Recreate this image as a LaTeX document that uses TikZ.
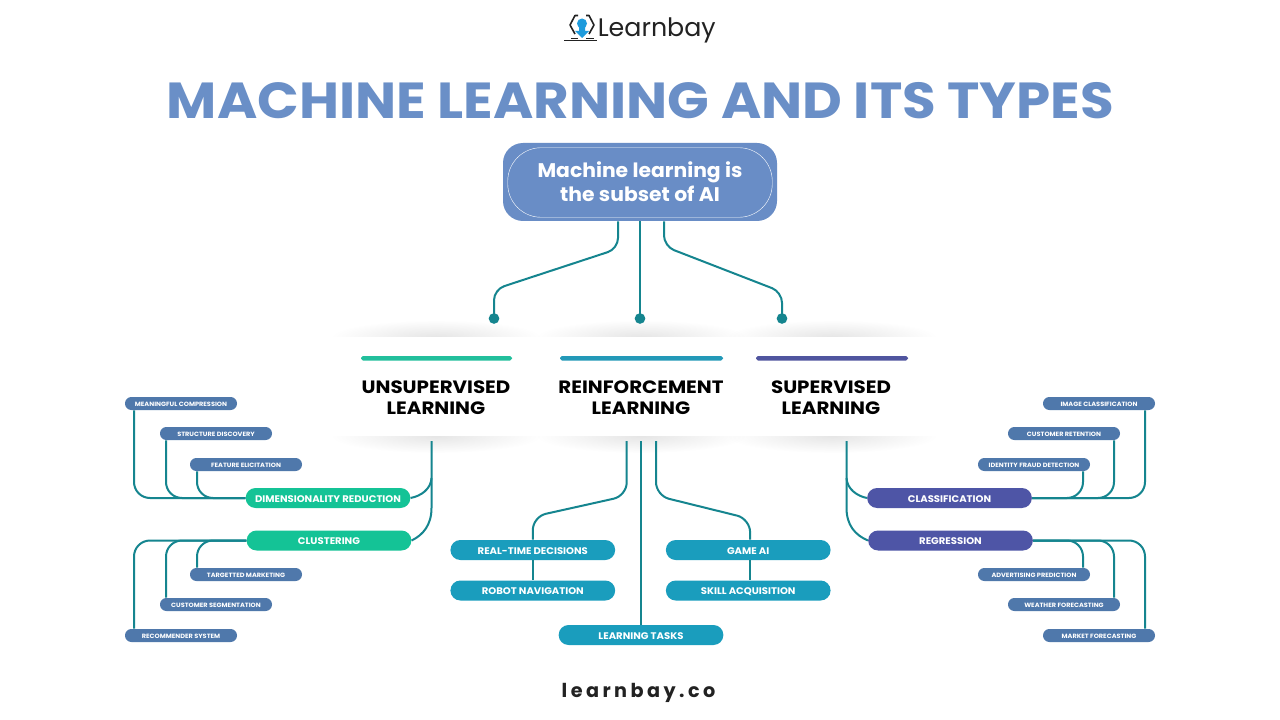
\documentclass[tikz,border=0pt]{standalone}
\usepackage{fontspec}
\setmainfont{Poppins}
\usetikzlibrary{calc,fadings}
\definecolor{titleblue}{HTML}{6A8FC7}
\definecolor{rootblue}{HTML}{698DC6}
\definecolor{smallblue}{HTML}{4F78AB}
\definecolor{greenp}{HTML}{14C396}
\definecolor{purplep}{HTML}{4E55A6}
\definecolor{cyanp}{HTML}{1A9DBD}
\definecolor{teal2}{HTML}{15858F}
\definecolor{bargreen}{HTML}{22BF9C}
\definecolor{barcyan}{HTML}{2399B8}
\definecolor{barpurple}{HTML}{50559F}
\definecolor{logoblue}{HTML}{1E9BDC}
\definecolor{inkk}{HTML}{222222}
\tikzfading[name=softshadow,inner color=transparent!90,outer color=transparent!100]
\tikzset{
  smallpill/.style={fill=smallblue,text=white,minimum width=84pt,minimum height=9.75pt,inner sep=0pt,rounded corners=4.8pt,text height=4.2pt,text depth=0pt,font=\fontsize{4.6}{5}\selectfont\bfseries\addfontfeature{FakeStretch=1.07}},
  midpill/.style={text=white,minimum width=123.5pt,minimum height=15pt,inner sep=0pt,rounded corners=7.4pt,text height=6.4pt,text depth=0pt,font=\fontsize{7.2}{8}\selectfont\bfseries\addfontfeature{FakeStretch=1.05}},
  conn/.style={draw=teal2,line width=1.5pt,rounded corners=#1},
  conn/.default=12pt,
  cardtext/.style={align=center,text=black,inner sep=0pt,font=\fontsize{13.4}{15.75}\selectfont\bfseries\addfontfeature{FakeStretch=1.11}},
  dotnode/.style={circle,fill=teal2,minimum size=8pt,inner sep=0pt},
  shadowblob/.style={fill=black,path fading=softshadow},
  topbar/.style={rounded corners=1.4pt}
}
\begin{document}
\begin{tikzpicture}[x=0.75pt,y=-0.75pt]
\useasboundingbox[fill=white] (0,0) rectangle (1280,720);
% card shadows
\foreach \cx in {436,641,832}{
  \fill[shadowblob] (\cx,337) ellipse (105 and 17);
  \fill[shadowblob] (\cx,436) ellipse (105 and 17);
}
\fill[white] (330,337) rectangle (950,436);
% logo
\node[anchor=base west,inner sep=0pt,text=inkk,font=\fontsize{19}{20}\selectfont] (logotext) at (597.5,37) {Learnbay};
\draw[inkk,line width=1.2pt,line join=round] (586,15.5) -- (589,15.5) -- (594,25) -- (589,34);
\draw[inkk,line width=1.2pt,line join=round] (575,34) -- (570,25) -- (575,15.5) -- (578,15.5);
\fill[logoblue] (582,23.5) circle (5);
\fill[logoblue] (579,27) -- (585,27) -- (585,31) -- (589,31) -- (582,38) -- (575,31) -- (579,31) -- cycle;
\draw[inkk,line width=0.9pt] (564,40.5) -- (597,40.5);
\draw[inkk,line width=0.7pt] (571,38) -- (578,38) (586,38) -- (594,38);
% title
\node[text=titleblue,inner sep=0pt,font=\fontsize{38}{40}\selectfont\bfseries\addfontfeature{FakeStretch=1.08}] (title) at (640.5,100.5) {MACHINE LEARNING AND ITS TYPES};
% root
\node[fill=rootblue,text=white,align=center,minimum width=205.5pt,minimum height=58.5pt,inner sep=0pt,rounded corners=15pt,font=\fontsize{14.8}{18}\selectfont\bfseries\addfontfeature{FakeStretch=1.03}] (root) at (640,182) {\raisebox{-2pt}{Machine learning is}\\\raisebox{-2pt}{the subset of AI}};
\draw[white,line width=0.3pt,rounded corners=25pt] ($(root.north west)+(5,5)$) rectangle ($(root.south east)+(-5,-4)$);
% dots
\node[dotnode] (d1) at (494,318.5) {};
\node[dotnode] (d2) at (640,318.5) {};
\node[dotnode] (d3) at (782,318.5) {};
\draw[conn=8pt] ($(root.south)+(-22,0)$) -- ++(0,27.5) -- (494,289.5) -- (d1.center);
\draw[conn=8pt] (root.south) -- (d2.center);
\draw[conn=8pt] ($(root.south)+(24,0)$) -- ++(0,25) -- (782,292) -- (d3.center);
% bars
\fill[bargreen,topbar] (361,356) rectangle (512,360.5);
\fill[barcyan,topbar] (560,356) rectangle (723,360.5);
\fill[barpurple,topbar] (756,356) rectangle (908,360.5);
% cards
\node[cardtext] (uns) at (436,397.5) {UNSUPERVISED\\LEARNING};
\node[cardtext] (rei) at (641,397.5) {REINFORCEMENT\\LEARNING};
\node[cardtext] (sup) at (831,397.5) {SUPERVISED\\LEARNING};
% mid pills
\node[midpill,fill=greenp] (dim) at (328,498) {DIMENSIONALITY REDUCTION};
\node[midpill,fill=greenp] (clu) at (329,540.5) {CLUSTERING};
\node[midpill,fill=purplep] (cla) at (949.5,498) {CLASSIFICATION};
\node[midpill,fill=purplep] (reg) at (950.5,540.5) {REGRESSION};
\node[midpill,fill=cyanp] (rt) at (532.8,550) {REAL-TIME DECISIONS};
\node[midpill,fill=cyanp] (rn) at (532.8,590.5) {ROBOT NAVIGATION};
\node[midpill,fill=cyanp] (ga) at (748.2,550) {GAME AI};
\node[midpill,fill=cyanp] (sk) at (748.2,590.5) {SKILL ACQUISITION};
\node[midpill,fill=cyanp] (lt) at (641,635) {LEARNING TASKS};
% small pills
\node[smallpill] (mc) at (181,403.5) {MEANINGFUL COMPRESSION};
\node[smallpill] (sd) at (216,433.5) {STRUCTURE DISCOVERY};
\node[smallpill] (fe) at (246,464.5) {FEATURE ELICITATION};
\node[smallpill] (tm) at (246,574.5) {TARGETTED MARKETING};
\node[smallpill] (cs) at (216,604.5) {CUSTOMER SEGMENTATION};
\node[smallpill] (rs) at (181,635.5) {RECOMMENDER SYSTEM};
\node[smallpill] (ic) at (1099,403.5) {IMAGE CLASSIFICATION};
\node[smallpill] (cr) at (1064,433.5) {CUSTOMER RETENTION};
\node[smallpill] (id) at (1034,464.5) {IDENTITY FRAUD DETECTION};
\node[smallpill] (ap) at (1034,574.5) {ADVERTISING PREDICTION};
\node[smallpill] (wf) at (1064,604.5) {WEATHER FORECASTING};
\node[smallpill] (mf) at (1099,635.5) {MARKET FORECASTING};
% footer
\node[text=inkk,inner sep=0pt,font=\fontsize{14.4}{16}\selectfont\bfseries\addfontfeature{LetterSpace=18}] (foot) at (638.5,692.5) {learnbay.co};
% left connectors
\draw[conn] ($(mc.south)+(-47,0)$) |- (dim.west);
\draw[conn] ($(sd.south)+(-50,0)$) |- (dim.west);
\draw[conn] ($(fe.south)+(-49,0)$) |- (dim.west);
\draw[conn] ($(rs.north)+(-47,0)$) |- (clu.west);
\draw[conn] ($(cs.north)+(-50,0)$) |- (clu.west);
\draw[conn] ($(tm.north)+(-49,0)$) |- (clu.west);
% right connectors
\draw[conn] ($(ic.south)+(46,0)$) |- (cla.east);
\draw[conn] ($(cr.south)+(50,0)$) |- (cla.east);
\draw[conn] ($(id.south)+(49,0)$) |- (cla.east);
\draw[conn] ($(mf.north)+(46,0)$) |- (reg.east);
\draw[conn] ($(wf.north)+(50,0)$) |- (reg.east);
\draw[conn] ($(ap.north)+(49,0)$) |- (reg.east);
% unsupervised trunk
\coordinate (ut) at (431.5,441);
\draw[draw=teal2,line width=1.5pt] (ut) -- (431.5,508) .. controls (431.5,525) and (423,535) .. (clu.east);
\draw[draw=teal2,line width=1.5pt] (431.5,478) .. controls (431,489) and (421,496) .. (dim.east);
% supervised trunk
\coordinate (st) at (846.5,441);
\draw[draw=teal2,line width=1.5pt] (st) -- (846.5,508) .. controls (846.5,525) and (855,535) .. (reg.west);
\draw[draw=teal2,line width=1.5pt] (846.5,478) .. controls (847,489) and (857,496) .. (cla.west);
% reinforcement trunks
\coordinate (r1) at (626.7,441);
\coordinate (r2) at (641,441);
\coordinate (r3) at (656,441);
\draw[conn=10pt] (r1) -- (626.7,495.8) -- (532.8,516.7) -- (rt.north);
\draw[conn=10pt] (r3) -- (656,495.6) -- (750,518.8) -- ($(ga.north)+(2,0)$);
\draw[conn] (r2) -- (lt.north);
\draw[conn] (rt.south) -- (rn.north);
\draw[conn] ($(ga.south)+(2,0)$) -- ($(sk.north)+(2,0)$);
\end{tikzpicture}
\end{document}
